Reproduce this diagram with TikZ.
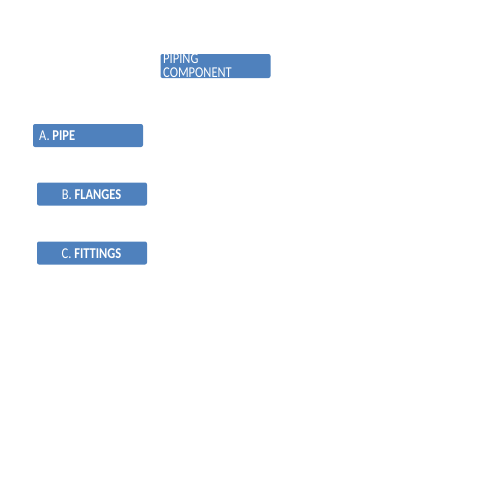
\documentclass[tikz,border=0pt]{standalone}
\usepackage{fontspec}
\setmainfont{Carlito}
\newcommand{\tallt}[1]{\scalebox{1}[1.2]{#1}}
\begin{document}
\begin{tikzpicture}[x=1pt,y=-1pt]
  \definecolor{kBlue}{RGB}{79,129,189}
  \tikzset{
    compbox/.style={fill=kBlue,rounded corners=2pt,minimum width=110pt,minimum height=23pt,inner sep=0pt},
    boxtext/.style={text=white,font=\fontsize{12.5}{14}\selectfont,inner sep=0pt}
  }
  \useasboundingbox (0,0) rectangle (480,480);

  \node[compbox,minimum height=24pt] (piping) at (215.5,66) {};
  \node[boxtext,anchor=west,align=left] (pipingtxt) at (163,66) {\tallt{PIPING}\\[0pt]\tallt{COMPONENT}};

  \node[compbox] (pipe) at (88,135.5) {};
  \node[boxtext,anchor=west] (pipetxt) at (39,135.5) {\tallt{A. \textbf{PIPE}}};

  \node[compbox] (flanges) at (92,194) {};
  \node[boxtext] (flangestxt) at (91.5,194.5) {\tallt{B. \textbf{FLANGES}}};

  \node[compbox] (fittings) at (92,253) {};
  \node[boxtext] (fittingstxt) at (91.5,253.5) {\tallt{C. \textbf{FITTINGS}}};
\end{tikzpicture}
\end{document}
